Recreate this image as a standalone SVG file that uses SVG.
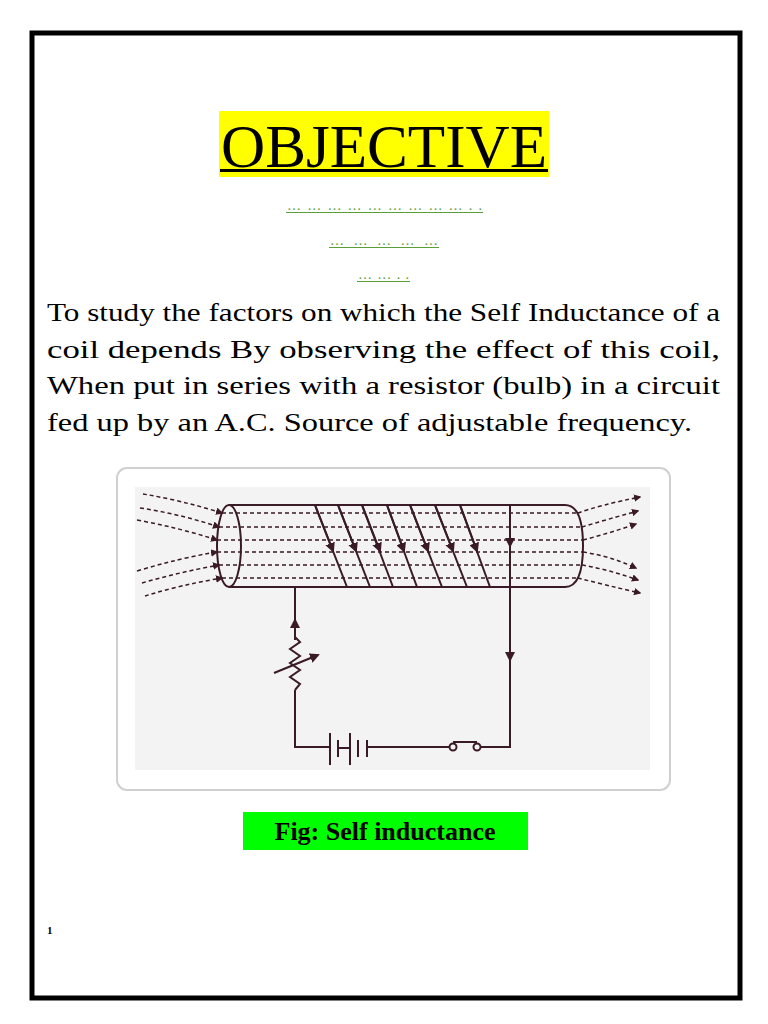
<svg xmlns="http://www.w3.org/2000/svg" width="768" height="1024" viewBox="0 0 768 1024">
<style>
.w{fill:none;stroke:#3a1a26;stroke-width:2}
.d{fill:none;stroke:#3a1a26;stroke-width:1.5;stroke-dasharray:4 3}
.t{font-family:"Liberation Serif",serif;fill:#000}
.dot{font-family:"Liberation Serif",serif;fill:#5a9e3a;font-size:14px}
</style>
<defs>
<marker id="a" viewBox="0 0 10 10" refX="8" refY="5" markerWidth="5" markerHeight="5" orient="auto"><path d="M0,0L10,5L0,10z" fill="#3a1a26"/></marker>
</defs>
<rect width="768" height="1024" fill="#fff"/>
<rect x="32" y="33" width="708" height="965" fill="none" stroke="#000" stroke-width="5"/>
<g id="title">
<rect x="219" y="111" width="330" height="66" fill="#ffff00"/>
<text class="t" x="221" y="167" font-size="62" textLength="326" lengthAdjust="spacingAndGlyphs">OBJECTIVE</text>
<rect x="220" y="169" width="328" height="3" fill="#000"/>
</g>
<g id="dots">
<text class="dot" x="287" y="210" textLength="195" lengthAdjust="spacing">………………………..</text>
<rect x="286" y="212" width="197" height="1" fill="#5a9e3a"/>
<text class="dot" x="330" y="245" textLength="108" lengthAdjust="spacing">……………</text>
<rect x="329" y="247" width="110" height="1" fill="#5a9e3a"/>
<text class="dot" x="358" y="279" textLength="51" lengthAdjust="spacing">……..</text>
<rect x="357" y="281" width="53" height="1" fill="#5a9e3a"/>
</g>
<g id="para" class="t" font-size="26">
<text x="47" y="321" textLength="673" lengthAdjust="spacingAndGlyphs">To study the factors on which the Self Inductance of a</text>
<text x="47" y="358" textLength="673" lengthAdjust="spacingAndGlyphs">coil depends By observing the effect of this coil,</text>
<text x="47" y="394" textLength="673" lengthAdjust="spacingAndGlyphs">When put in series with a resistor (bulb) in a circuit</text>
<text x="47" y="431" textLength="645" lengthAdjust="spacingAndGlyphs">fed up by an A.C. Source of adjustable frequency.</text>
</g>
<g id="figure">
<rect x="117" y="468" width="553" height="322" rx="10" fill="#fff" stroke="#d0d0d0" stroke-width="2"/>
<rect x="135" y="487" width="515" height="283" fill="#f3f3f3"/>
</g>
<g id="coil">
<path class="w" d="M229,505 H565 Q583,505 583,546 Q583,587 565,587 H229"/>
<ellipse class="w" cx="229" cy="546" rx="12" ry="41"/>
<g class="d">
<path d="M222,513H578M219,527H582M217,540H583M217,552H583M219,565H582M222,578H578"/>
</g>
<g class="w">
<path d="M315,505L347,587"/><path d="M338,505L370,587"/><path d="M362,505L393,587"/><path d="M387,505L417,587"/><path d="M410,505L442,587"/><path d="M435,505L467,587"/><path d="M460,505L490,587"/>
</g>
<g class="w" marker-end="url(#a)">
<path d="M315,505L333,551"/><path d="M338,505L356,551"/><path d="M362,505L380,551"/><path d="M387,505L404,551"/><path d="M410,505L428,551"/><path d="M435,505L453,551"/><path d="M460,505L477,551"/>
</g>
</g>
<g id="field" class="d" marker-end="url(#a)">
<path d="M143,494 Q180,500 222,513"/>
<path d="M140,508 Q180,514 219,527"/>
<path d="M137,520 Q180,528 217,540"/>
<path d="M137,571 Q180,558 217,552"/>
<path d="M142,583 Q180,572 219,565"/>
<path d="M145,596 Q180,585 222,578"/>
<path d="M578,513 Q600,505 640,497"/>
<path d="M582,527 Q605,520 638,511"/>
<path d="M583,540 Q610,533 636,524"/>
<path d="M583,552 Q610,556 636,568"/>
<path d="M582,565 Q610,570 638,580"/>
<path d="M578,578 Q605,585 640,593"/>
</g>
<g id="connectors">
<path class="w" d="M510,505V747H481M449,747H367M330,747H295V690M295,637V587"/>
<path class="w" d="M510,505V546" marker-end="url(#a)"/>
<path class="w" d="M510,587V660" marker-end="url(#a)"/>
<path class="w" d="M295,640V620" marker-end="url(#a)"/>
</g>
<g id="resistor">
<path class="w" d="M295,637L300,642L290,649L300,656L290,663L300,670L290,677L300,684L295,690"/>
<path class="w" d="M274,673L318,655" marker-end="url(#a)"/>
</g>
<g id="battery" class="w">
<path d="M330,733V765M350,733V765M338,740V757M358,740V757M367,740V757"/>
<path d="M338,748H350"/>
</g>
<g id="switch">
<circle class="w" cx="453" cy="747" r="3.5" fill="#f3f3f3"/>
<circle class="w" cx="477" cy="747" r="3.5" fill="#f3f3f3"/>
<path class="w" d="M453,742H477"/>
</g>
<g id="caption">
<rect x="243" y="812" width="285" height="38" fill="#00ff00"/>
<text class="t" x="385" y="840" font-size="26" font-weight="bold" text-anchor="middle">Fig: Self inductance</text>
</g>
<text class="t" x="47" y="934" font-size="11" font-weight="bold">1</text>
</svg>
